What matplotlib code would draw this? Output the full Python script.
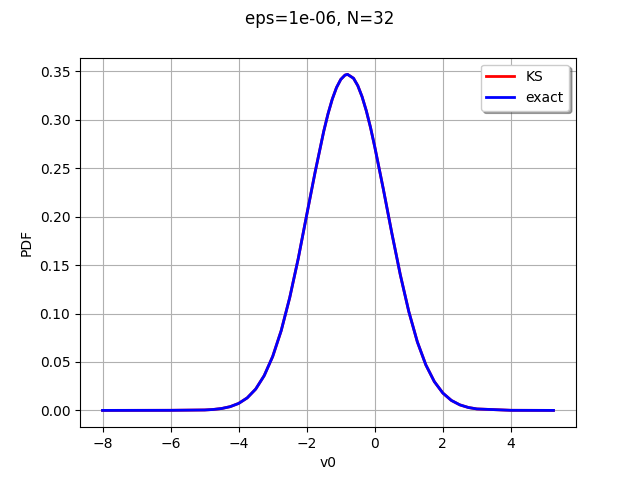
import matplotlib
matplotlib.use('Agg')
import matplotlib.pyplot as plt

# values
v0 = [-8.0, -6.0, -5.0, -4.75, -4.5, -4.25, -4.0, -3.75, -3.5, -3.25, -3.0, -2.75,
      -2.5, -2.25, -2.0, -1.75, -1.5, -1.375, -1.25, -1.125, -1.0, -0.875, -0.8,
      -0.625, -0.5, -0.375, -0.25, -0.125, 0.0,
      0.25, 0.5, 0.75, 1.0, 1.25, 1.5, 1.75, 2.0, 2.25, 2.5, 2.75, 3.0, 4.0, 5.25]
pdf_exact = [0.0, 0.0001, 0.00044, 0.00095, 0.00196, 0.00386, 0.00722, 0.0129, 0.0220,
             0.0359, 0.0557, 0.0824, 0.1164, 0.1567, 0.202, 0.2467, 0.2883, 0.3062,
             0.3214, 0.3334, 0.3418, 0.3463, 0.347, 0.3430, 0.3354, 0.3241, 0.3095,
             0.2921, 0.272, 0.2287, 0.1832, 0.1400, 0.102,
             0.0708, 0.0470, 0.0297, 0.0179, 0.0103, 0.0057, 0.0030, 0.0015, 0.0001, 0.0]
pdf_ks = list(pdf_exact)

fig, ax = plt.subplots(figsize=(6.4, 4.8), dpi=100)
fig.suptitle('eps=1e-06, N=32')
ax.plot(v0, pdf_ks, color='red', lw=2, label='KS')
ax.plot(v0, pdf_exact, color='blue', lw=2, label='exact')
ax.set_xlabel('v0')
ax.set_ylabel('PDF')
ax.grid(True)
ax.legend(loc='upper right', shadow=True)
fig.savefig('out.png')
